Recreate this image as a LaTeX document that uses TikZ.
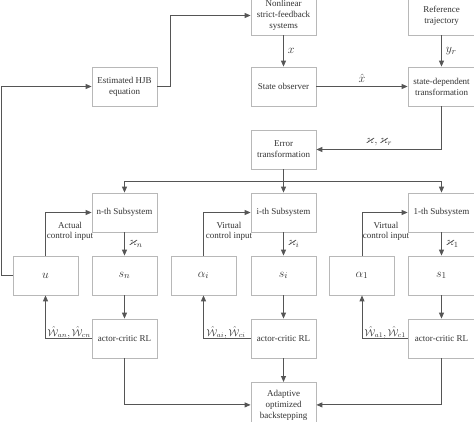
\documentclass[tikz,border=0pt]{standalone}
\usepackage{amsmath,amssymb}
\usepackage{fontspec}
\setmainfont{Liberation Serif}
\usetikzlibrary{arrows.meta,calc}
\definecolor{boxc}{HTML}{B8B8B8}
\definecolor{linec}{HTML}{555555}
\definecolor{txtc}{HTML}{333333}
\tikzset{
  blk/.style={draw=boxc, line width=0.8pt, fill=white, minimum width=65pt, minimum height=39pt,
    inner sep=1pt, align=center, text=txtc, font=\fontsize{9}{11}\selectfont},
  conn/.style={draw=linec, line width=0.9pt},
  arr/.style={conn, -{Triangle[length=6pt,width=5pt]}},
  lbl/.style={text=txtc, inner sep=1pt, font=\fontsize{9}{10.5}\selectfont, align=center},
  mlbl/.style={text=txtc, inner sep=1pt, font=\fontsize{13}{15}\selectfont},
  klbl/.style={text=txtc, inner sep=1pt, font=\fontsize{12}{14}\selectfont},
  wlbl/.style={text=txtc, inner sep=0.5pt, font=\fontsize{10}{12}\selectfont},
  bm/.style={font=\fontsize{13}{15}\selectfont}
}
\begin{document}
\begin{tikzpicture}[x=1pt,y=-1pt]
\useasboundingbox (0,0) rectangle (474,422);
% top row
\node[blk] (hjb) at (124.5,86.5) {Estimated HJB\\equation};
\node[blk] (nl) at (283.5,15.5) {Nonlinear\\strict-feedback\\systems};
\node[blk, minimum width=67pt] (ref) at (441.5,15.5) {Reference\\trajectory};
\node[blk] (obs) at (283.5,86.5) {State observer};
\node[blk, minimum width=67pt] (sdt) at (441.5,86.5) {state-dependent\\transformation};
\node[blk] (err) at (283.5,149.5) {Error\\transformation};
% subsystems
\node[blk] (subn) at (124.5,212.5) {n-th Subsystem};
\node[blk] (subi) at (283.5,212.5) {i-th Subsystem};
\node[blk, minimum width=67pt] (sub1) at (441.5,212.5) {1-th Subsystem};
% middle row
\node[blk, bm] (u) at (45.5,275.5) {$u$};
\node[blk, bm] (sn) at (124.5,275.5) {$s_n$};
\node[blk, bm] (ai) at (203.5,275.5) {$\alpha_i$};
\node[blk, bm] (si) at (283.5,275.5) {$s_i$};
\node[blk, bm] (a1) at (362,275.5) {$\alpha_1$};
\node[blk, bm, minimum width=67pt] (s1) at (441.5,275.5) {$s_1$};
% actor critic
\node[blk] (acn) at (124.5,338.5) {actor-critic RL};
\node[blk] (aci) at (283.5,338.5) {actor-critic RL};
\node[blk, minimum width=67pt] (ac1) at (441.5,338.5) {actor-critic RL};
\node[blk, minimum height=45pt, anchor=north] (aob) at (283.5,382) {Adaptive\\optimized\\backstepping};
% coordinates
\coordinate (lc) at (1,0);
\coordinate (jc) at (170,0);
\coordinate (br) at (283.5,181);
% connectors top
\draw[arr] (u.west) -- (u.west -| lc) -- (hjb.west -| lc) -- (hjb.west);
\draw[arr] (hjb.east) -- (hjb.east -| jc) |- (nl.west);
\draw[arr] (nl.south) -- node[mlbl, right=3pt] {$x$} (obs.north);
\draw[arr] (obs.east) -- node[mlbl, above=3pt] {$\hat{x}$} (sdt.west);
\draw[arr] (ref.south -| sdt.south) -- node[mlbl, right=3pt] {$y_r$} (sdt.north);
\draw[arr] (sdt.south) |- node[klbl, pos=0.75, above=2pt] {$\varkappa,\varkappa_r$} (err.east);
\draw[conn] (err.south) -- (br);
\draw[arr] (br) -- (subi.north);
\draw[arr] (br) -| (subn.north);
\draw[arr] (br) -| (sub1.north);
% subsystem to s
\draw[arr] (subn.south) -- node[klbl, right=3pt] {$\varkappa_n$} (sn.north);
\draw[arr] (subi.south) -- node[klbl, right=3pt] {$\varkappa_i$} (si.north);
\draw[arr] (sub1.south) -- node[klbl, right=3pt] {$\varkappa_1$} (s1.north);
% control inputs
\draw[arr] (u.north) |- (subn.west);
\node[lbl] (lbln) at (70,231.5) {Actual\\control input};
\draw[arr] (ai.north) |- (subi.west);
\node[lbl] (lbli) at (229,231.5) {Virtual\\control input};
\draw[arr] (a1.north) |- (sub1.west);
\node[lbl] (lbl1) at (386,231.5) {Virtual\\control input};
% s to actor critic
\draw[arr] (sn.south) -- (acn.north);
\draw[arr] (si.south) -- (aci.north);
\draw[arr] (s1.south) -- (ac1.north);
% weights back
\draw[arr] (acn.west) -| (u.south);
\node[wlbl, anchor=south west] (wn) at (47,339) {$\hat{\mathcal{W}}_{an},\hat{\mathcal{W}}_{cn}$};
\draw[arr] (aci.west) -| (ai.south);
\node[wlbl, anchor=south west] (wi) at (206,339) {$\hat{\mathcal{W}}_{ai},\hat{\mathcal{W}}_{ci}$};
\draw[arr] (ac1.west) -| (a1.south);
\node[wlbl, anchor=south west] (w1) at (364,339) {$\hat{\mathcal{W}}_{a1},\hat{\mathcal{W}}_{c1}$};
% to backstepping
\draw[arr] (acn.south) |- (aob.west);
\draw[arr] (aci.south) -- (aob.north);
\draw[arr] (ac1.south) |- (aob.east);
\end{tikzpicture}
\end{document}
